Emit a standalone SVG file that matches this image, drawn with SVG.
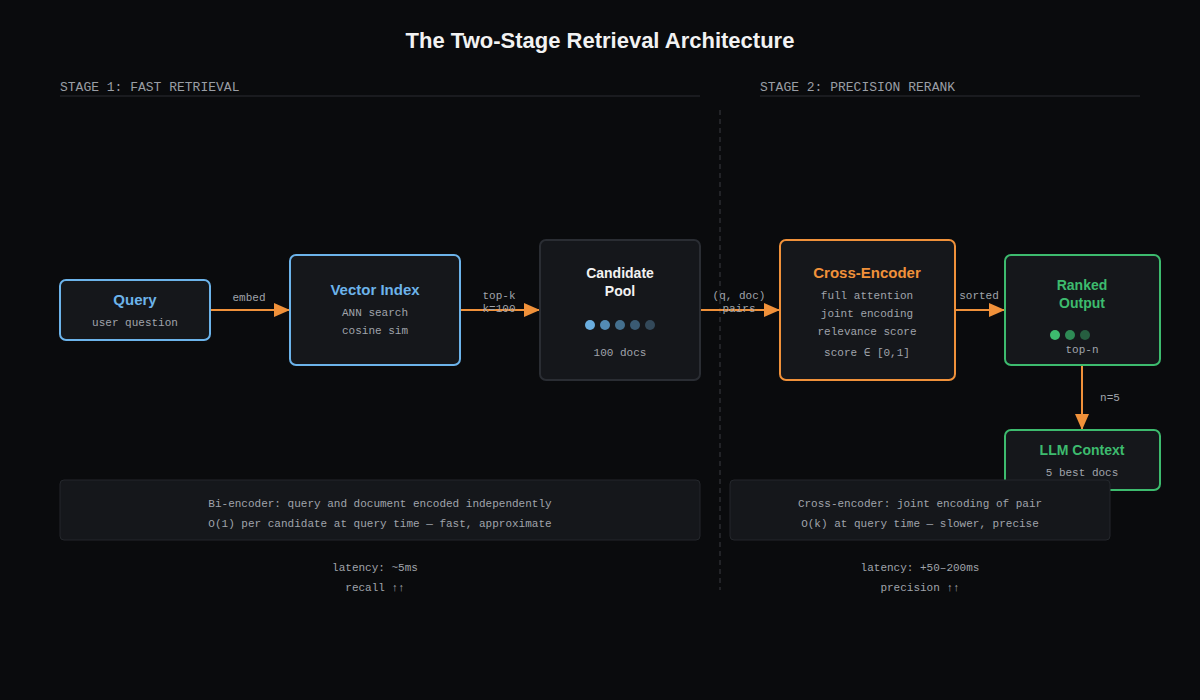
<svg xmlns="http://www.w3.org/2000/svg" width="1200" height="700" viewBox="0 0 1200 700">
<style>
.t{font-family:"Liberation Sans",Arial,sans-serif;font-weight:bold;text-anchor:middle}
.m{font-family:"Liberation Mono","DejaVu Sans Mono",monospace;text-anchor:middle;font-size:11px;fill:#a0a4ab}
.box{fill:#15171b;stroke-width:2}
.c{stroke:#f0913a;stroke-width:2;fill:none}
</style>
<defs><marker id="a" viewBox="0 0 10 10" refX="9" refY="5" markerWidth="8" markerHeight="8" markerUnits="userSpaceOnUse" orient="auto"><path d="M0,0L10,5L0,10z" fill="#f0913a"/></marker>
<marker id="ah" viewBox="0 0 16 14" refX="16" refY="7" markerWidth="16" markerHeight="14" markerUnits="userSpaceOnUse" orient="auto"><path d="M0,0L16,7L0,14z" fill="#f0913a"/></marker></defs>
<rect width="1200" height="700" fill="#0a0b0d"/>
<text class="t" x="600" y="48" font-size="22" fill="#f2f2f2">The Two-Stage Retrieval Architecture</text>
<text x="60" y="91" font-family="Liberation Mono,monospace" font-size="13" fill="#9a9ea5">STAGE 1: FAST RETRIEVAL</text>
<line x1="60" y1="96" x2="700" y2="96" stroke="#2a2d33"/>
<text x="760" y="91" font-family="Liberation Mono,monospace" font-size="13" fill="#9a9ea5">STAGE 2: PRECISION RERANK</text>
<line x1="760" y1="96" x2="1140" y2="96" stroke="#2a2d33"/>
<line x1="720" y1="110" x2="720" y2="590" stroke="#3a3d43" stroke-dasharray="5,4"/>
<g id="connectors">
<line class="c" x1="210" y1="310" x2="290" y2="310" marker-end="url(#ah)"/>
<text class="m" x="249" y="301">embed</text>
<line class="c" x1="460" y1="310" x2="540" y2="310" marker-end="url(#ah)"/>
<text class="m" x="499" y="299">top-k</text><text class="m" x="499" y="312" fill="#f0913a">k=100</text>
<line class="c" x1="700" y1="310" x2="780" y2="310" marker-end="url(#ah)"/>
<text class="m" x="739" y="299">(q, doc)</text><text class="m" x="739" y="312">pairs</text>
<line class="c" x1="955" y1="310" x2="1005" y2="310" marker-end="url(#ah)"/>
<text class="m" x="979" y="299">sorted</text>
<line class="c" x1="1082" y1="365" x2="1082" y2="430" marker-end="url(#ah)"/>
<text class="m" x="1110" y="401">n=5</text>
</g>
<g id="query"><rect class="box" x="60" y="280" width="150" height="60" rx="6" stroke="#6cb3ea"/>
<text class="t" x="135" y="305" font-size="15" fill="#6cb3ea">Query</text><text class="m" x="135" y="326" font-size="12">user question</text></g>
<g id="vector-index"><rect class="box" x="290" y="255" width="170" height="110" rx="6" stroke="#6cb3ea"/>
<text class="t" x="375" y="295" font-size="15" fill="#6cb3ea">Vector Index</text><text class="m" x="375" y="316" font-size="12">ANN search</text><text class="m" x="375" y="334" font-size="12">cosine sim</text></g>
<g id="candidate-pool"><rect class="box" x="540" y="240" width="160" height="140" rx="6" stroke="#2a2d33"/>
<text class="t" x="620" y="278" font-size="14" fill="#f2f2f2">Candidate</text><text class="t" x="620" y="296" font-size="14" fill="#f2f2f2">Pool</text>
<circle cx="590" cy="325" r="5" fill="#6aaee0"/><circle cx="605" cy="325" r="5" fill="#538bb5"/><circle cx="620" cy="325" r="5" fill="#44708f"/><circle cx="635" cy="325" r="5" fill="#3a5a73"/><circle cx="650" cy="325" r="5" fill="#33495a"/>
<text class="m" x="620" y="356">100 docs</text></g>
<g id="cross-encoder"><rect class="box" x="780" y="240" width="175" height="140" rx="6" stroke="#f0913a"/>
<text class="t" x="867" y="278" font-size="15" fill="#f0913a">Cross-Encoder</text>
<text class="m" x="867" y="299" font-size="12">full attention</text><text class="m" x="867" y="317" font-size="12">joint encoding</text><text class="m" x="867" y="335" font-size="12">relevance score</text>
<text class="m" x="867" y="356" font-size="12" fill="#f0913a">score ∈ [0,1]</text></g>
<g id="ranked-output"><rect class="box" x="1005" y="255" width="155" height="110" rx="6" stroke="#3dbb6e"/>
<text class="t" x="1082" y="290" font-size="14" fill="#3dbb6e">Ranked</text><text class="t" x="1082" y="308" font-size="14" fill="#3dbb6e">Output</text>
<circle cx="1055" cy="335" r="5" fill="#3dbb6e"/><circle cx="1070" cy="335" r="5" fill="#2e8a55"/><circle cx="1085" cy="335" r="5" fill="#265e40"/>
<text class="m" x="1082" y="353">top-n</text></g>
<g id="llm-context"><rect class="box" x="1005" y="430" width="155" height="60" rx="6" stroke="#3dbb6e"/>
<text class="t" x="1082" y="455" font-size="14" fill="#3dbb6e">LLM Context</text><text class="m" x="1082" y="476" font-size="12">5 best docs</text></g>
<g id="note1"><rect x="60" y="480" width="640" height="60" rx="4" fill="#15171b" stroke="#24272c"/>
<text class="m" x="380" y="507" font-size="13" fill="#6cb3ea">Bi-encoder: query and document encoded independently</text>
<text class="m" x="380" y="527" font-size="12">O(1) per candidate at query time — fast, approximate</text></g>
<g id="note2"><rect x="730" y="480" width="380" height="60" rx="4" fill="#15171b" stroke="#24272c"/>
<text class="m" x="920" y="507" font-size="13" fill="#f0913a">Cross-encoder: joint encoding of pair</text>
<text class="m" x="920" y="527" font-size="12">O(k) at query time — slower, precise</text></g>
<text class="m" x="375" y="571" font-size="12">latency: ~5ms</text><text class="m" x="375" y="591" font-size="12" fill="#3dbb6e">recall ↑↑</text>
<text class="m" x="920" y="571" font-size="12">latency: +50–200ms</text><text class="m" x="920" y="591" font-size="12" fill="#3dbb6e">precision ↑↑</text>
</svg>
